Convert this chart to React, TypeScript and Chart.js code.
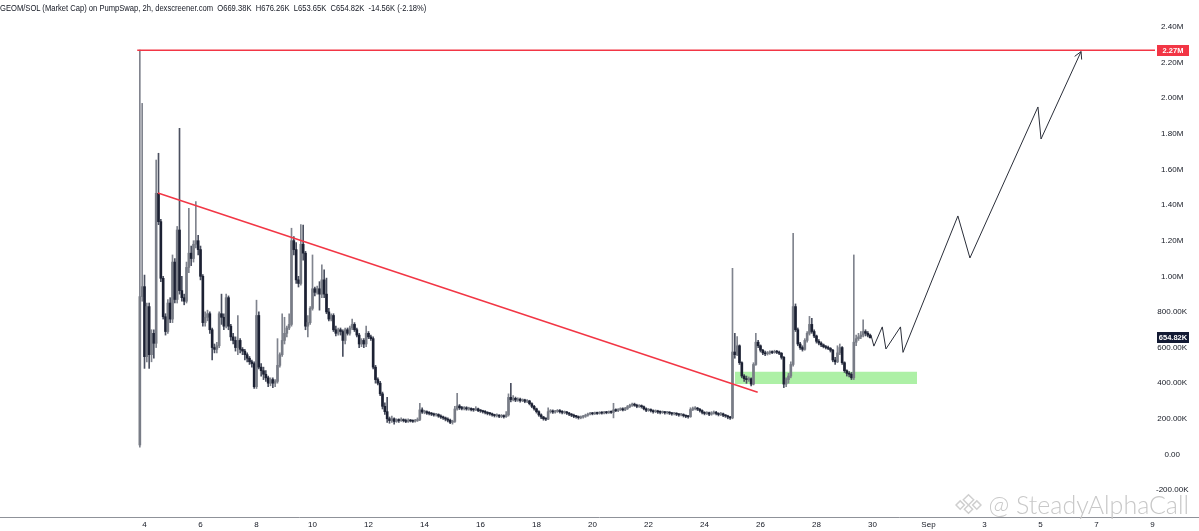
import React, { useEffect, useRef } from "react";
import { Chart, registerables } from "chart.js";

Chart.register(...registerables);

// ---- data (market cap in thousands of USD, 2h candles) ----
const START_DAY = 3 + 20 / 24; // Aug 3, 20:00 (x axis = day of August)
const CANDLE_STEP_DAYS = 2 / 24;
const OPEN_FIRST = 53;

const CLOSES = [
  886, 942, 549, 830, 560, 680, 624, 1466, 1307, 989, 773, 690, 850, 760, 1080, 870, 1260, 920, 880, 860,
  1050, 1130, 1100, 1180, 1200, 1150, 1000, 740, 770, 790, 700, 600, 590, 610, 790, 770, 720, 880, 720, 660,
  640, 600, 640, 590, 580, 560, 540, 520, 510, 380, 780, 490, 470, 450, 430, 400, 420, 400, 410, 500,
  560, 640, 680, 710, 730, 1200, 1150, 980, 960, 1180, 1130, 720, 740, 820, 930, 910, 930, 900, 980, 900,
  800, 760, 780, 700, 680, 700, 690, 640, 700, 680, 710, 730, 700, 670, 620, 640, 620, 680, 660, 650,
  490, 420, 400, 340, 270, 240, 200, 190, 200, 185, 195, 190, 195, 190, 185, 192, 188, 186, 190, 196,
  250, 238, 240, 232, 230, 226, 222, 224, 215, 210, 205, 198, 192, 180, 185, 255, 272, 262, 258, 262,
  255, 258, 252, 250, 256, 246, 244, 240, 236, 230, 228, 222, 218, 220, 214, 218, 212, 222, 320, 308,
  315, 305, 310, 302, 306, 298, 300, 285, 270, 256, 240, 222, 210, 200, 198, 240, 244, 238, 242, 246,
  240, 236, 238, 232, 226, 220, 214, 212, 206, 210, 214, 220, 226, 230, 228, 232, 230, 234, 232, 236,
  234, 238, 236, 250, 246, 252, 256, 250, 258, 268, 276, 282, 276, 270, 274, 268, 256, 248, 252, 246,
  240, 244, 238, 236, 238, 234, 236, 232, 228, 230, 226, 222, 224, 218, 214, 212, 252, 256, 260, 254,
  246, 236, 230, 234, 226, 232, 236, 230, 224, 228, 220, 216, 210, 205, 575, 560, 610, 515, 440, 425,
  420, 425, 395, 505, 630, 610, 585, 570, 565, 570, 575, 572, 578, 574, 568, 545, 395, 420, 440, 505,
  830, 700, 620, 600, 590, 640, 680, 730, 690, 665, 635, 625, 615, 605, 600, 595, 585, 530, 520, 570,
  600, 515, 470, 455, 450, 430, 630, 650, 660, 670, 690, 680, 669.38, 654.82,
];

const HIGHS = [
  2271, 1971, 1007, 850, 850, 700, 700, 1653, 1691, 1320, 1000, 790, 870, 880, 1120, 1100, 1280, 1831, 1000, 900,
  1080, 1382, 1170, 1200, 1420, 1230, 1170, 1010, 800, 810, 800, 710, 620, 630, 800, 900, 790, 900, 890, 730,
  680, 660, 780, 650, 600, 590, 570, 550, 530, 520, 866, 800, 510, 490, 470, 440, 430, 430, 420, 650,
  570, 790, 770, 720, 790, 1270, 1223, 1190, 1000, 1290, 1288, 1140, 780, 830, 1120, 940, 945, 970, 1064, 1036,
  990, 820, 790, 790, 720, 710, 710, 700, 710, 710, 720, 760, 740, 710, 680, 650, 650, 720, 690, 670,
  660, 500, 430, 410, 350, 290, 320, 210, 215, 205, 200, 200, 205, 200, 198, 200, 196, 194, 197, 205,
  287, 262, 248, 245, 240, 236, 232, 230, 228, 222, 215, 210, 205, 198, 192, 270, 343, 280, 270, 268,
  268, 265, 262, 258, 268, 260, 252, 248, 246, 240, 236, 232, 226, 228, 224, 224, 222, 240, 340, 399,
  330, 322, 318, 316, 312, 310, 308, 304, 290, 275, 260, 245, 228, 214, 206, 262, 252, 250, 248, 252,
  252, 246, 244, 242, 236, 230, 226, 220, 216, 216, 220, 226, 232, 236, 236, 238, 238, 240, 240, 242,
  242, 244, 244, 287, 256, 258, 262, 262, 264, 275, 282, 288, 288, 282, 280, 278, 272, 262, 258, 256,
  250, 250, 248, 244, 244, 242, 242, 240, 236, 236, 234, 230, 230, 228, 222, 218, 262, 266, 268, 264,
  258, 250, 240, 240, 238, 240, 244, 242, 234, 236, 232, 224, 220, 214, 1045, 680, 661, 615, 520, 448,
  440, 435, 430, 515, 680, 640, 615, 590, 580, 578, 582, 582, 585, 584, 580, 572, 550, 430, 455, 520,
  1241, 845, 710, 630, 610, 650, 690, 775, 764, 700, 670, 645, 632, 620, 612, 608, 600, 590, 545, 610,
  620, 605, 520, 475, 465, 460, 1120, 670, 680, 690, 755, 700, 690, 676.26,
];

const LOWS = [
  40, 860, 483, 520, 483, 520, 540, 600, 1290, 970, 760, 670, 680, 740, 740, 850, 850, 900, 860, 840,
  850, 1020, 1060, 1080, 1160, 1120, 980, 720, 720, 750, 680, 530, 570, 570, 600, 730, 700, 710, 700, 640,
  620, 580, 560, 570, 560, 530, 520, 505, 490, 370, 370, 480, 440, 420, 410, 380, 385, 375, 380, 400,
  490, 550, 620, 660, 700, 720, 1120, 960, 940, 950, 1090, 700, 660, 730, 810, 890, 900, 810, 880, 880,
  790, 750, 750, 690, 665, 670, 670, 550, 620, 670, 670, 700, 690, 660, 600, 605, 600, 605, 650, 640,
  480, 400, 390, 330, 255, 225, 180, 175, 180, 170, 180, 180, 185, 182, 178, 180, 182, 180, 181, 185,
  190, 230, 228, 225, 222, 218, 215, 214, 208, 202, 196, 188, 182, 172, 170, 180, 248, 252, 250, 250,
  248, 248, 244, 242, 246, 240, 236, 232, 228, 222, 220, 214, 210, 210, 206, 206, 204, 208, 215, 295,
  300, 296, 298, 294, 296, 290, 290, 278, 262, 248, 232, 214, 200, 192, 190, 195, 232, 230, 232, 236,
  232, 228, 228, 224, 218, 212, 206, 204, 198, 200, 204, 208, 214, 222, 222, 224, 224, 226, 226, 228,
  228, 230, 230, 205, 240, 240, 246, 244, 246, 252, 262, 270, 270, 262, 264, 260, 250, 240, 242, 238,
  232, 234, 230, 228, 230, 226, 228, 224, 220, 222, 218, 214, 216, 210, 206, 204, 208, 246, 250, 246,
  238, 228, 222, 224, 218, 220, 226, 222, 216, 218, 212, 208, 200, 196, 200, 540, 555, 505, 430, 410,
  399, 410, 385, 390, 500, 600, 575, 560, 555, 558, 562, 565, 568, 566, 560, 535, 375, 380, 400, 430,
  495, 690, 610, 590, 580, 585, 630, 670, 680, 655, 625, 615, 605, 598, 592, 588, 575, 520, 505, 515,
  560, 505, 460, 440, 435, 420, 420, 610, 640, 650, 660, 665, 660, 653.65,
];

const X_TICK_DAYS = [4, 6, 8, 10, 12, 14, 16, 18, 20, 22, 24, 26, 28, 30, 32, 34, 36, 38, 40];
const Y_TICKS = [-200, 0, 200, 400, 600, 800, 1000, 1200, 1400, 1600, 1800, 2000, 2200, 2400];

// drawings
const TARGET_LEVEL = 2270;
const TARGET_START_DAY = 3.74;
const LAST_PRICE = 654.82;
const TREND_X = [4.48, 25.9];
const TREND_Y = [1468, 349];
const ZONE_X = [25.09, 31.59];
const ZONE_LOW = 395;
const ZONE_HIGH = 464;
const PATH_X = [29.95, 30.05, 30.35, 30.48, 31.0, 31.09, 33.05, 33.48, 35.91, 36.02, 37.45];
const PATH_Y = [668, 608, 716, 592, 716, 573, 1339, 1103, 1951, 1771, 2262];

const X_MIN = -1.161;
const X_MAX = 40.09;
const Y_MIN = -351.5;
const Y_MAX = 2551.6;

const FONT = "'Liberation Sans', Arial, sans-serif";
const UP_BODY = "#787c86";
const DOWN_BODY = "#1c2133";
const UP_WICK = "#80848e";
const DOWN_WICK = "#4b5060";

function fmtY(v: number): string {
  if (v === 0) return "0.00";
  if (Math.abs(v) >= 1000) return (v / 1000).toFixed(2) + "M";
  return v.toFixed(2) + "K";
}
function fmtX(v: number): string {
  if (v === 32) return "Sep";
  if (v > 31) return String(v - 31);
  return String(v);
}

const overlayPlugin = {
  id: "tvOverlay",
  afterDraw(chart: any) {
    const { ctx, chartArea, scales } = chart;
    const xs = scales.x;
    const ys = scales.y;
    ctx.save();
    // time axis border line, across the full width
    ctx.strokeStyle = "#8f9299";
    ctx.lineWidth = 1;
    ctx.beginPath();
    ctx.moveTo(0, chartArea.bottom + 0.5);
    ctx.lineTo(chart.width, chartArea.bottom + 0.5);
    ctx.stroke();

    // arrow head at the end of the projected path
    const n = PATH_X.length;
    const x1 = xs.getPixelForValue(PATH_X[n - 2]);
    const y1 = ys.getPixelForValue(PATH_Y[n - 2]);
    const x2 = xs.getPixelForValue(PATH_X[n - 1]);
    const y2 = ys.getPixelForValue(PATH_Y[n - 1]);
    const ang = Math.atan2(y2 - y1, x2 - x1);
    const len = 8;
    ctx.strokeStyle = "#2a2e39";
    ctx.lineWidth = 1;
    ctx.beginPath();
    ctx.moveTo(x2 - len * Math.cos(ang - 0.5), y2 - len * Math.sin(ang - 0.5));
    ctx.lineTo(x2, y2);
    ctx.lineTo(x2 - len * Math.cos(ang + 0.5), y2 - len * Math.sin(ang + 0.5));
    ctx.stroke();

    // price labels on the axis
    const drawTag = (value: number, text: string, bg: string) => {
      const y = ys.getPixelForValue(value);
      const left = chartArea.right + 2;
      const w = 32;
      const h = 11;
      ctx.fillStyle = bg;
      ctx.fillRect(left, Math.round(y - h / 2), w, h);
      ctx.fillStyle = "#ffffff";
      ctx.font = "bold 7.5px " + FONT;
      ctx.textAlign = "center";
      ctx.textBaseline = "middle";
      ctx.fillText(text, left + w / 2, y + 0.5);
    };
    drawTag(TARGET_LEVEL, "2.27M", "#f23645");
    drawTag(LAST_PRICE, "654.82K", "#131a33");
    ctx.restore();
  },
};

function Logo() {
  return (
    <svg width="27" height="24" viewBox="0 0 26 22" style={{ display: "block" }}>
      <g fill="none" stroke="#cfcfcf" strokeWidth="1.4">
        <path d="M13 2 L18 7 L13 12 L8 7 Z" />
        <path d="M5 8 L9 12 L5 16 L1 12 Z" />
        <path d="M21 8 L25 12 L21 16 L17 12 Z" />
        <path d="M13 12 L17 16 L13 20 L9 16 Z" />
      </g>
    </svg>
  );
}

export default function App() {
  const canvasRef = useRef<HTMLCanvasElement | null>(null);

  useEffect(() => {
    document.body.style.margin = "0";
    const canvas = canvasRef.current;
    if (!canvas) return;

    const xs = CLOSES.map((_, i) => START_DAY + i * CANDLE_STEP_DAYS);
    const opens = CLOSES.map((_, i) => (i === 0 ? OPEN_FIRST : CLOSES[i - 1]));
    const isUp = CLOSES.map((c, i) => c >= opens[i]);

    const wickData = xs.map((x, i) => ({
      x,
      y: [Math.min(LOWS[i], opens[i], CLOSES[i]), Math.max(HIGHS[i], opens[i], CLOSES[i])],
    }));
    const bodyData = xs.map((x, i) => ({ x, y: [opens[i], CLOSES[i]] }));

    const chart = new Chart(canvas, {
      type: "bar",
      data: {
        datasets: [
          {
            type: "line",
            label: "zone",
            data: ZONE_X.map((x) => ({ x, y: ZONE_HIGH })),
            borderWidth: 0,
            borderColor: "rgba(0,0,0,0)",
            backgroundColor: "#adf0a6",
            fill: { value: ZONE_LOW },
            pointRadius: 0,
            order: 20,
          } as any,
          {
            label: "wicks",
            data: wickData as any,
            backgroundColor: isUp.map((u) => (u ? UP_WICK : DOWN_WICK)),
            barThickness: 1,
            grouped: false,
            order: 10,
          } as any,
          {
            label: "bodies",
            data: bodyData as any,
            backgroundColor: isUp.map((u) => (u ? UP_BODY : DOWN_BODY)),
            barThickness: 2,
            minBarLength: 1,
            grouped: false,
            order: 9,
          } as any,
          {
            type: "line",
            label: "target",
            data: [
              { x: TARGET_START_DAY, y: TARGET_LEVEL },
              { x: X_MAX, y: TARGET_LEVEL },
            ],
            borderColor: "#f23645",
            borderWidth: 1.5,
            pointRadius: 0,
            fill: false,
            order: 2,
          } as any,
          {
            type: "line",
            label: "trend",
            data: TREND_X.map((x, i) => ({ x, y: TREND_Y[i] })),
            borderColor: "#f23645",
            borderWidth: 1.5,
            pointRadius: 0,
            fill: false,
            order: 2,
          } as any,
          {
            type: "line",
            label: "path",
            data: PATH_X.map((x, i) => ({ x, y: PATH_Y[i] })),
            borderColor: "#2a2e39",
            borderWidth: 1,
            pointRadius: 0,
            fill: false,
            tension: 0,
            order: 1,
          } as any,
        ],
      },
      options: {
        animation: false,
        responsive: false,
        events: [],
        layout: { padding: { left: 0, right: 10, top: 0, bottom: 0 }, autoPadding: false },
        plugins: { legend: { display: false }, tooltip: { enabled: false } },
        scales: {
          x: {
            type: "linear",
            offset: false,
            min: X_MIN,
            max: X_MAX,
            grid: { display: false, drawTicks: false, offset: false },
            border: { display: false },
            ticks: {
              autoSkip: false,
              maxRotation: 0,
              padding: 3,
              color: "#131722",
              font: { family: FONT, size: 8 },
              callback: (v: any) => fmtX(Number(v)),
            },
            afterBuildTicks: (s: any) => {
              s.ticks = X_TICK_DAYS.map((v) => ({ value: v }));
            },
            afterFit: (s: any) => {
              s.height = 14;
              s.paddingLeft = 0;
              s.paddingRight = 0;
            },
          },
          y: {
            type: "linear",
            position: "right",
            offset: false,
            min: Y_MIN,
            max: Y_MAX,
            grid: { display: false, drawTicks: false },
            border: { display: false },
            ticks: {
              crossAlign: "center",
              padding: 1,
              color: "#131722",
              font: { family: FONT, size: 8 },
              callback: (v: any) => fmtY(Number(v)),
            },
            afterBuildTicks: (s: any) => {
              s.ticks = Y_TICKS.map((v) => ({ value: v }));
            },
            afterFit: (s: any) => {
              s.width = 34;
              s.paddingTop = 0;
              s.paddingBottom = 0;
            },
          },
        },
      } as any,
      plugins: [overlayPlugin as any],
    });

    return () => chart.destroy();
  }, []);

  return (
    <div style={{ position: "relative", width: 1199, height: 531, background: "#ffffff", overflow: "hidden" }}>
      <canvas ref={canvasRef} width={1199} height={531} style={{ display: "block", width: 1199, height: 531 }} />
      <div
        style={{
          position: "absolute",
          left: 0,
          top: 2,
          fontFamily: FONT,
          fontSize: 9.5,
          color: "#131722",
          whiteSpace: "pre",
          lineHeight: "12px",
          transform: "scaleX(0.8)",
          transformOrigin: "0 0",
        }}
      >
        {"GEOM/SOL (Market Cap) on PumpSwap, 2h, dexscreener.com  O669.38K  H676.26K  L653.65K  C654.82K  -14.56K (-2.18%)"}
      </div>
      <div
        style={{
          position: "absolute",
          right: 10,
          top: 491,
          display: "flex",
          alignItems: "center",
          gap: 6,
          fontFamily: "Lato, 'Open Sans', sans-serif",
          fontWeight: 300,
          fontSize: 25,
          lineHeight: "26px",
          color: "#c8c8c8",
          whiteSpace: "pre",
        }}
      >
        <Logo />
        <span>{"@ SteadyAlphaCall"}</span>
      </div>
    </div>
  );
}
